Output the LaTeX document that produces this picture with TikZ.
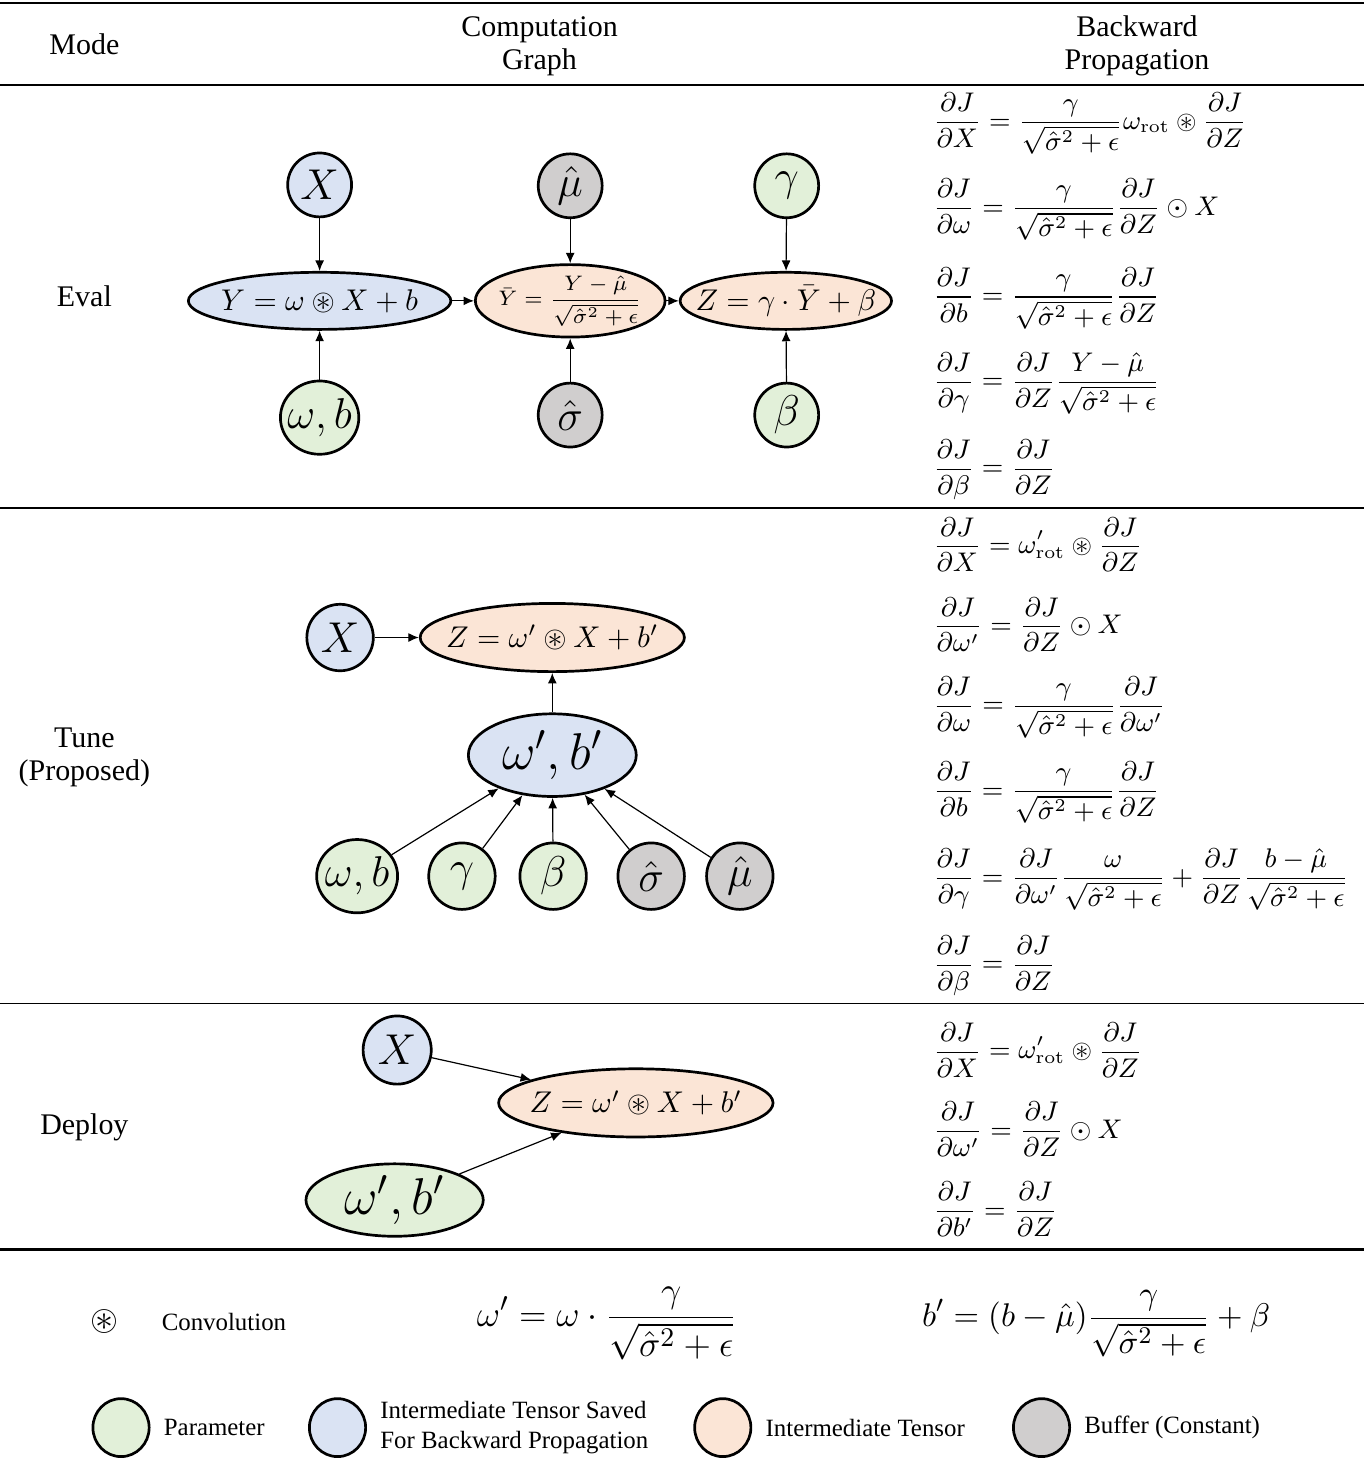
\documentclass[tikz,border=0pt]{standalone}
\usepackage{amsmath,amssymb}
\usepackage[no-math]{fontspec}
\setmainfont{Liberation Serif}
\usetikzlibrary{shapes.geometric,arrows.meta,positioning}

\definecolor{paramgreen}{HTML}{E2F0D9}
\definecolor{savedblue}{HTML}{DAE3F3}
\definecolor{interorange}{HTML}{FBE5D6}
\definecolor{buffergray}{HTML}{D0CECE}

\newcommand\pJ[1]{\frac{\partial J}{\partial #1}}
\newcommand\sdev{\sqrt{\hat{\sigma}^2+\epsilon}}

\tikzset{
    var/.style={ellipse, draw, line width=0.9pt, inner sep=0pt, minimum width=0.75cm, minimum height=0.75cm, font=\Large},
    param/.style={var, fill=paramgreen},
    saved/.style={var, fill=savedblue},
    inter/.style={var, fill=interorange},
    buffer/.style={var, fill=buffergray},
    opnode/.style={font=\fontsize{10}{12}\selectfont},
    link/.style={-{Latex[length=3.5pt,width=3pt]}, line width=0.4pt},
    eqn/.style={anchor=west, inner sep=0pt, font=\fontsize{8.8}{11}\selectfont,
        execute at begin node=$\displaystyle, execute at end node=$},
    legtext/.style={anchor=west, inner sep=0pt, align=left, font=\fontsize{8.3}{9.8}\selectfont},
    twoline/.style={align=center, font=\fontsize{10}{11}\selectfont},
}

\begin{document}
\begin{tikzpicture}
    \useasboundingbox (0,0) rectangle (16,-17.13);
    % Rules
    \draw[line width=0.8pt] (0,-0.035) -- (16,-0.035);
    \draw[line width=0.5pt] (0,-1.00) -- (16,-1.00);
    \draw[line width=0.4pt] (0,-5.96) -- (16,-5.96);
    \draw[line width=0.4pt] (0,-11.77) -- (16,-11.77);
    \draw[line width=0.8pt] (0,-14.66) -- (16,-14.66);
    % Header
    \node (hmode) at (0.99,-0.52) {Mode};
    \node[twoline] (hgraph) at (6.33,-0.54) {Computation\\Graph};
    \node[twoline] (hback) at (13.34,-0.54) {Backward\\Propagation};
    % Modes
    \node (reval) at (0.99,-3.48) {Eval};
    \node[twoline] (rtune) at (0.99,-8.89) {Tune\\(Proposed)};
    \node (rdeploy) at (0.99,-13.23) {Deploy};
    % Eval graph
    \node[saved] (eX) at (3.75,-2.17) {$X$};
    \node[buffer] (emu) at (6.69,-2.18) {$\hat{\mu}$};
    \node[param] (egamma) at (9.23,-2.18) {$\gamma$};
    \node[saved, opnode, minimum width=3.08cm, minimum height=0.67cm, inner xsep=-3.4pt] (eY) at (3.75,-3.53) {$Y = \omega \circledast X + b$};
    \node[inter, font=\fontsize{7.2}{9}\selectfont, minimum width=2.08cm, minimum height=0.85cm, inner xsep=-1.6pt] (eYbar) at (6.69,-3.53) {$\bar{Y} = \dfrac{Y-\hat{\mu}}{\sdev}$};
    \node[inter, opnode, minimum width=2.48cm, minimum height=0.67cm, inner xsep=-6.9pt] (eZ) at (9.22,-3.53) {$Z = \gamma \cdot \bar{Y} + \beta$};
    \node[param, minimum width=0.92cm, minimum height=0.86cm, inner xsep=-1.9pt] (ewb) at (3.75,-4.90) {$\omega, b$};
    \node[buffer] (esigma) at (6.69,-4.87) {$\hat{\sigma}$};
    \node[param] (ebeta) at (9.23,-4.87) {$\beta$};
    \draw[link] (eX) -- (eY);
    \draw[link] (ewb) -- (eY);
    \draw[link] (eY) -- (eYbar);
    \draw[link] (emu) -- (eYbar);
    \draw[link] (esigma) -- (eYbar);
    \draw[link] (eYbar) -- (eZ);
    \draw[link] (egamma) -- (eZ);
    \draw[link] (ebeta) -- (eZ);
    % Tune graph
    \node[saved, minimum size=0.78cm] (tX) at (3.99,-7.48) {$X$};
    \node[inter, opnode, minimum width=3.1cm, minimum height=0.8cm, inner xsep=-4.7pt] (tZ) at (6.48,-7.48) {$Z = \omega' \circledast X + b'$};
    \node[saved, font=\LARGE, minimum width=1.97cm, minimum height=0.97cm] (twb) at (6.48,-8.86) {$\omega', b'$};
    \node[param, minimum width=0.95cm, minimum height=0.86cm, inner xsep=-1.4pt] (tw) at (4.19,-10.28) {$\omega, b$};
    \node[param, minimum size=0.78cm] (tgamma) at (5.42,-10.28) {$\gamma$};
    \node[param, minimum size=0.78cm] (tbeta) at (6.49,-10.28) {$\beta$};
    \node[buffer, minimum size=0.78cm] (tsigma) at (7.64,-10.28) {$\hat{\sigma}$};
    \node[buffer, minimum size=0.78cm] (tmu) at (8.68,-10.28) {$\hat{\mu}$};
    \draw[link] (tX) -- (tZ);
    \draw[link] (twb) -- (tZ);
    \foreach \n in {tw,tgamma,tbeta,tsigma,tmu}
        \draw[link] (\n) -- (twb);
    % Deploy graph
    \node[saved, minimum size=0.8cm] (dX) at (4.66,-12.32) {$X$};
    \node[inter, opnode, minimum width=3.22cm, minimum height=0.8cm, inner xsep=-3.5pt] (dZ) at (7.46,-12.94) {$Z = \omega' \circledast X + b'$};
    \node[param, font=\LARGE, minimum width=2.08cm, minimum height=0.85cm] (dwb) at (4.63,-14.08) {$\omega', b'$};
    \draw[link] (dX) -- (dZ);
    \draw[link] (dwb) -- (dZ);
    % Eval gradients
    \node[eqn] (ge1) at (10.94,-1.45) {\pJ{X} = \frac{\gamma}{\sdev}\omega_{\mathrm{rot}} \circledast \pJ{Z}};
    \node[eqn] (ge2) at (10.94,-2.46) {\pJ{\omega} = \frac{\gamma}{\sdev}\pJ{Z} \odot X};
    \node[eqn] (ge3) at (10.94,-3.50) {\pJ{b} = \frac{\gamma}{\sdev}\pJ{Z}};
    \node[eqn] (ge4) at (10.94,-4.50) {\pJ{\gamma} = \pJ{Z}\frac{Y-\hat{\mu}}{\sdev}};
    \node[eqn] (ge5) at (10.94,-5.51) {\pJ{\beta} = \pJ{Z}};
    % Tune gradients
    \node[eqn] (gt1) at (10.94,-6.39) {\pJ{X} = \omega'_{\mathrm{rot}} \circledast \pJ{Z}};
    \node[eqn] (gt2) at (10.94,-7.33) {\pJ{\omega'} = \pJ{Z} \odot X};
    \node[eqn] (gt3) at (10.94,-8.30) {\pJ{\omega} = \frac{\gamma}{\sdev}\pJ{\omega'}};
    \node[eqn] (gt4) at (10.94,-9.30) {\pJ{b} = \frac{\gamma}{\sdev}\pJ{Z}};
    \node[eqn] (gt5) at (10.94,-10.32) {\pJ{\gamma} = \pJ{\omega'}\frac{\omega}{\sdev} + \pJ{Z}\frac{b-\hat{\mu}}{\sdev}};
    \node[eqn] (gt6) at (10.94,-11.33) {\pJ{\beta} = \pJ{Z}};
    % Deploy gradients
    \node[eqn] (gd1) at (10.94,-12.32) {\pJ{X} = \omega'_{\mathrm{rot}} \circledast \pJ{Z}};
    \node[eqn] (gd2) at (10.94,-13.25) {\pJ{\omega'} = \pJ{Z} \odot X};
    \node[eqn] (gd3) at (10.94,-14.19) {\pJ{b'} = \pJ{Z}};
    % Folding
    \node[inner sep=0pt, font=\large] (conv) at (1.22,-15.51) {$\circledast$};
    \node[legtext, right=0.5cm of conv] (convtxt) {Convolution};
    \node[font=\fontsize{12.5}{15}\selectfont] (wfold) at (7.12,-15.53) {$\displaystyle \omega' = \omega \cdot \frac{\gamma}{\sdev}$};
    \node[font=\fontsize{11}{13}\selectfont] (bfold) at (12.86,-15.53) {$\displaystyle b' = (b-\hat{\mu})\frac{\gamma}{\sdev} + \beta$};
    % Legend
    \node[param, minimum width=0.66cm, minimum height=0.68cm] (lparam) at (1.42,-16.75) {};
    \node[legtext, right=0.15cm of lparam] (tparam) {Parameter};
    \node[saved, minimum width=0.66cm, minimum height=0.68cm] (lsaved) at (3.96,-16.75) {};
    \node[legtext, right=0.15cm of lsaved] (tsaved) {Intermediate Tensor Saved\\For Backward Propagation};
    \node[inter, minimum width=0.66cm, minimum height=0.68cm] (linter) at (8.48,-16.75) {};
    \node[legtext, right=0.15cm of linter] (tinter) {Intermediate Tensor};
    \node[buffer, minimum width=0.66cm, minimum height=0.68cm] (lbuffer) at (12.22,-16.75) {};
    \node[legtext, right=0.15cm of lbuffer] (tbuffer) {Buffer (Constant)};
\end{tikzpicture}
\end{document}
